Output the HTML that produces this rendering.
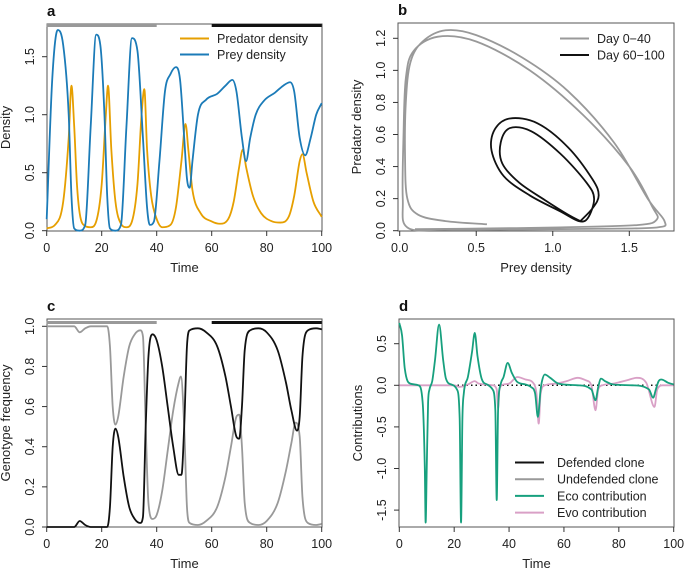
<!DOCTYPE html>
<html><head><meta charset="utf-8"><style>
body{margin:0;background:#fff}
svg{display:block;font-family:"Liberation Sans",Arial,sans-serif}
</style></head><body>
<svg id="fig" width="685" height="574" viewBox="0 0 685 574"></svg>
<script>
// ---------- Panel a data ----------
const aPreyT=[0,2,4,6,8,9,10,12,14,16,18,19.5,21,22,23,25,27,29,31,33,35,36.5,37.5,39,41,43,45,47,48.5,50,51,52,53,55,58,62,65,67.5,69,71,72.5,74,76,79,83,86,88.5,90,92,94,96,98,100];
const aPreyV=[0.1,1.3,1.73,1.6,1.0,0.3,0.02,0.0,0.05,0.9,1.69,1.6,1.0,0.3,0.02,0.0,0.05,0.9,1.66,1.55,0.8,0.2,0.05,0.08,0.6,1.2,1.35,1.41,1.3,0.8,0.45,0.37,0.6,1.0,1.13,1.18,1.25,1.3,1.2,0.8,0.6,0.8,1.0,1.12,1.19,1.25,1.28,1.2,0.8,0.65,0.8,1.0,1.1];
const aPredT=[0,3,6,8,9,10,11,12,14,16,18,20,21.5,22.3,23.5,25,27,29,31,33,34.5,35.5,36.5,38,40,42,45,47,49,50.5,51.5,53,56,60,63,66,68,70,71.3,72.5,75,78,82,85,88,90,92,93,94.5,97,100];
const aPredV=[0.02,0.05,0.25,0.8,1.25,0.9,0.4,0.15,0.04,0.03,0.08,0.4,1.0,1.25,0.7,0.25,0.06,0.03,0.08,0.4,1.0,1.22,0.7,0.3,0.1,0.03,0.05,0.2,0.6,0.92,0.7,0.35,0.15,0.08,0.06,0.1,0.25,0.55,0.7,0.55,0.3,0.15,0.08,0.07,0.12,0.3,0.6,0.66,0.5,0.25,0.12];
const xTicks=[0,20,40,60,80,100];
const aYTicks=[0,0.5,1.0,1.5];
// ---------- Panel b data ----------
const bGrayX=[0.57,0.3,0.12,0.05,0.035,0.04,0.07,0.15,0.3,0.5,0.8,1.1,1.4,1.62,1.73,1.68,1.3,0.8,0.3,0.05,0.02,0.025,0.04,0.09,0.25,0.5,0.85,1.2,1.5,1.65,1.68,1.55,1.0,0.4,0.1];
const bGrayY=[0.04,0.06,0.1,0.2,0.45,0.8,1.05,1.18,1.25,1.22,1.08,0.87,0.55,0.2,0.06,0.02,0.012,0.008,0.006,0.02,0.2,0.6,0.95,1.12,1.21,1.18,1.0,0.72,0.4,0.15,0.07,0.035,0.02,0.012,0.01];
const bBlackX=[1.18,1.26,1.3,1.26,1.1,0.9,0.72,0.62,0.6,0.68,0.85,1.05,1.17,1.23,1.27,1.22,1.05,0.86,0.72,0.66,0.67,0.78,0.95,1.1,1.18];
const bBlackY=[0.06,0.14,0.22,0.32,0.52,0.67,0.7,0.63,0.5,0.34,0.22,0.12,0.06,0.08,0.2,0.3,0.48,0.62,0.64,0.55,0.42,0.3,0.19,0.1,0.06];
const bXTicks=[0,0.5,1.0,1.5];
const bYTicks=[0,0.2,0.4,0.6,0.8,1.0,1.2];
// ---------- Panel c data ----------
const cDefT=[0,10,12,14,16,22,23,24,25,26,28,30,32,34,35,36,37,38.5,40,42,44,46,48,49,50,51,52,55,58,62,65,67,69,70,71,72,74,77,80,84,87,89,91,92,93,95,98,100];
const cDefV=[0,0,0.03,0.01,0,0,0.1,0.4,0.49,0.45,0.25,0.1,0.04,0.02,0.05,0.5,0.85,0.96,0.93,0.8,0.6,0.4,0.26,0.26,0.5,0.9,0.98,0.99,0.97,0.9,0.75,0.6,0.45,0.44,0.6,0.88,0.98,0.99,0.97,0.88,0.72,0.58,0.48,0.55,0.85,0.98,0.99,0.985];
const cUndT=[0,10,12,14,16,22,23,24,25,26,28,30,32,34,35,36,37,38.5,40,42,44,46,48,48.8,50,51,52,55,58,62,65,67,69,70,71,72,74,77,80,84,87,89,90.5,92,93,95,98,100];
const cUndV=[1,1,0.97,0.99,1,1,0.9,0.6,0.51,0.55,0.75,0.9,0.96,0.98,0.95,0.5,0.12,0.04,0.06,0.18,0.38,0.58,0.72,0.75,0.5,0.1,0.02,0.01,0.03,0.1,0.25,0.4,0.55,0.56,0.4,0.12,0.02,0.01,0.03,0.12,0.28,0.42,0.52,0.45,0.15,0.02,0.01,0.015];
const cYTicks=[0,0.2,0.4,0.6,0.8,1.0];
// ---------- Panel d data ----------
const dEcoT=[0,1,2,4,7,8.5,9.3,9.6,10,10.5,11,12,13,14.5,16,17,19,21,22,22.5,23,23.5,25,26.5,27.5,28.5,30,32,34,35,35.5,36,37,38,39.5,41,43,46,48,49.5,50.5,51.5,52,53,55,58,65,70,71.5,72.5,73.5,75,78,85,91,92.5,93.5,94.5,95.5,98,100];
const dEcoV=[0.75,0.6,0.2,0.02,0,-0.2,-1.0,-1.65,-1.0,-0.2,-0.05,0.05,0.3,0.73,0.3,0.08,0.01,-0.05,-0.4,-1.65,-0.4,-0.1,0.1,0.4,0.63,0.35,0.08,0.01,-0.05,-0.3,-1.38,-0.3,0.02,0.1,0.27,0.15,0.04,0.01,-0.02,-0.1,-0.38,-0.05,0.05,0.13,0.09,0.02,0,-0.05,-0.18,-0.02,0.08,0.05,0.01,0,-0.05,-0.15,-0.05,0.05,0.07,0.03,0.01];
const dEvoT=[0,20,22,25,27.5,29,34,35.5,36,36.5,38,40,43,46,49,50,50.8,51.5,53,57,61,65,68,70,71.5,72.5,74,78,83,86.5,90,93,94,96,100];
const dEvoV=[0,0,-0.02,0.01,0.05,0.02,0,-0.05,-0.28,-0.05,0.01,0.02,0.1,0.07,0.02,-0.1,-0.46,-0.1,0,0.02,0.05,0.09,0.06,0,-0.3,-0.05,0,0.02,0.06,0.09,0.03,-0.26,-0.05,0,0];
const dYTicks=[-1.5,-1.0,-0.5,0,0.5];

const NS="http://www.w3.org/2000/svg";
const svg=document.getElementById('fig');
function el(tag,attrs,parent){const e=document.createElementNS(NS,tag);for(const k in attrs)e.setAttribute(k,attrs[k]);(parent||svg).appendChild(e);return e;}
function lin(d0,d1,r0,r1){return v=>r0+(v-d0)*(r1-r0)/(d1-d0);}
function monoPath(xs,ys){
  const n=xs.length,m=[],d=[];
  for(let i=0;i<n-1;i++)d.push((ys[i+1]-ys[i])/(xs[i+1]-xs[i]));
  m[0]=d[0];m[n-1]=d[n-2];
  for(let i=1;i<n-1;i++){m[i]=(d[i-1]*d[i]<=0)?0:(d[i-1]+d[i])/2;}
  for(let i=0;i<n-1;i++){if(d[i]===0){m[i]=0;m[i+1]=0;continue;}const a=m[i]/d[i],b=m[i+1]/d[i],s=a*a+b*b;if(s>9){const t=3/Math.sqrt(s);m[i]=t*a*d[i];m[i+1]=t*b*d[i];}}
  let p=`M${xs[0].toFixed(2)},${ys[0].toFixed(2)}`;
  for(let i=0;i<n-1;i++){const h=(xs[i+1]-xs[i])/3;p+=`C${(xs[i]+h).toFixed(2)},${(ys[i]+m[i]*h).toFixed(2)} ${(xs[i+1]-h).toFixed(2)},${(ys[i+1]-m[i+1]*h).toFixed(2)} ${xs[i+1].toFixed(2)},${ys[i+1].toFixed(2)}`;}
  return p;
}
function crPath(xs,ys){
  const n=xs.length;let p=`M${xs[0].toFixed(2)},${ys[0].toFixed(2)}`;
  for(let i=0;i<n-1;i++){const i0=Math.max(0,i-1),i3=Math.min(n-1,i+2);
    const c1x=xs[i]+(xs[i+1]-xs[i0])/6,c1y=ys[i]+(ys[i+1]-ys[i0])/6,c2x=xs[i+1]-(xs[i3]-xs[i])/6,c2y=ys[i+1]-(ys[i3]-ys[i])/6;
    p+=`C${c1x.toFixed(2)},${c1y.toFixed(2)} ${c2x.toFixed(2)},${c2y.toFixed(2)} ${xs[i+1].toFixed(2)},${ys[i+1].toFixed(2)}`;}
  return p;
}
function axes(P){
  const g=el('g',{});
  
  
  const fr=el('rect',{x:P.L,y:P.T,width:P.R-P.L,height:P.B-P.T,fill:'none',stroke:'#555','stroke-width':1},g);
  
  
  P.xt.forEach(v=>{const x=P.sx(v);el('line',{x1:x,x2:x,y1:P.B,y2:P.B+5,stroke:'#333'},g);
    const t=el('text',{x:x,y:P.B+21,'text-anchor':'middle','font-size':12.5,fill:'#222'},g);t.textContent=P.xf(v);
    
    });
  P.yt.forEach(v=>{const y=P.sy(v);el('line',{x1:P.L,x2:P.L-5,y1:y,y2:y,stroke:'#333'},g);
    const tx=P.L-13;
    const t=el('text',{x:tx,y:y,'text-anchor':'middle','font-size':12.5,fill:'#222',transform:`rotate(-90 ${tx} ${y})`},g);t.textContent=P.yf(v);
    
    });
  const xl=el('text',{x:(P.L+P.R)/2,y:P.B+41,'text-anchor':'middle','font-size':13,fill:'#222'},g);xl.textContent=P.xlab;
  
  
  const yx=P.L-37,yy=(P.T+P.B)/2;
  const yl=el('text',{x:yx,y:yy,'text-anchor':'middle','font-size':13,fill:'#222',transform:`rotate(-90 ${yx} ${yy})`},g);yl.textContent=P.ylab;
  
  
  const lt=el('text',{x:P.L,y:P.T-8,'font-size':15,'font-weight':'bold',fill:'#111'},g);lt.textContent=P.letter;
  
  
  return g;
}
function series(g,d,color,w,name){const p=el('path',{d:d,fill:'none',stroke:color,'stroke-width':w,'stroke-linejoin':'round'},g);
  
  }
function legend(g,x,tx,y0,dy,items,w){items.forEach((it,i)=>{const y=y0+i*dy;
  const l=el('line',{x1:x,x2:x+29,y1:y,y2:y,stroke:it[1],'stroke-width':w},g);
  
  
  const t=el('text',{x:tx,y:y+4.5,'font-size':12.5,fill:'#222'},g);t.textContent=it[0];
  
  });}
function bars(g,P,y){const a=el('line',{x1:P.sx(0),x2:P.sx(40),y1:y,y2:y,stroke:'#999','stroke-width':3},g);
  
  
  const b=el('line',{x1:P.sx(60),x2:P.sx(100),y1:y,y2:y,stroke:'#111','stroke-width':3},g);
  
  }
const f1=v=>v.toFixed(1), f0=v=>String(v);

// Panel a
const A={name:'panel-a',letter:'a',L:47,R:322,T:24,B:231,sx:lin(0,100,46.7,321.7),sy:lin(0,1.5,230.7,56.7),xt:xTicks,yt:aYTicks,xf:f0,yf:f1,xlab:'Time',ylab:'Density'};
const ga=axes(A);
series(ga,monoPath(aPredT.map(A.sx),aPredV.map(A.sy)),'#E69F00',1.8,'predator-density-line');
series(ga,monoPath(aPreyT.map(A.sx),aPreyV.map(A.sy)),'#1B7BB8',1.8,'prey-density-line');
bars(ga,A,25.5);
legend(ga,180,217,38.5,16,[['Predator density','#E69F00'],['Prey density','#1B7BB8']],2);

// Panel b
const Bp={name:'panel-b',letter:'b',L:398,R:674,T:23,B:231,sx:lin(0,1.5,399.7,629.3),sy:lin(0,1.2,230.7,38.3),xt:bXTicks,yt:bYTicks,xf:f1,yf:f1,xlab:'Prey density',ylab:'Predator density'};
const gb=axes(Bp);
series(gb,crPath(bGrayX.map(Bp.sx),bGrayY.map(Bp.sy)),'#999',1.8,'day-0-40-trajectory');
series(gb,crPath(bBlackX.map(Bp.sx),bBlackY.map(Bp.sy)),'#111',1.8,'day-60-100-trajectory');
legend(gb,560,597,38.5,16.5,[['Day 0\u221240','#999'],['Day 60\u2212100','#111']],2);

// Panel c
const C={name:'panel-c',letter:'c',L:47,R:322,T:319,B:527,sx:lin(0,100,46.7,321.7),sy:lin(0,1,527,326.3),xt:xTicks,yt:cYTicks,xf:f0,yf:f1,xlab:'Time',ylab:'Genotype frequency'};
const gc=axes(C);
series(gc,monoPath(cUndT.map(C.sx),cUndV.map(C.sy)),'#999',1.8,'undefended-clone-line');
series(gc,monoPath(cDefT.map(C.sx),cDefV.map(C.sy)),'#111',1.8,'defended-clone-line');
bars(gc,C,322.5);

// Panel d
const D={name:'panel-d',letter:'d',L:399,R:674,T:319,B:527,sx:lin(0,100,399.3,673.7),sy:lin(0,0.5,385.3,343.7),xt:xTicks,yt:dYTicks,xf:f0,yf:f1,xlab:'Time',ylab:'Contributions'};
const gd=axes(D);
const zl=el('line',{x1:D.L,x2:D.R,y1:D.sy(0),y2:D.sy(0),stroke:'#111','stroke-width':1.5,'stroke-dasharray':'1.5 3'},gd);


series(gd,monoPath(dEvoT.map(D.sx),dEvoV.map(D.sy)),'#D9A0C6',1.8,'evo-contribution-line');
series(gd,monoPath(dEcoT.map(D.sx),dEcoV.map(D.sy)),'#17A07E',1.8,'eco-contribution-line');
legend(gd,515,557,462.5,16.7,[['Defended clone','#111'],['Undefended clone','#999'],['Eco contribution','#17A07E'],['Evo contribution','#D9A0C6']],2);
</script>
</body></html>
